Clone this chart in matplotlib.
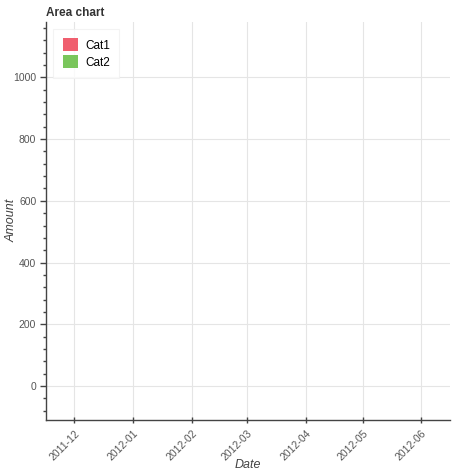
import matplotlib

matplotlib.use("Agg")
import matplotlib.dates as mdates
import matplotlib.pyplot as plt
import numpy as np
from matplotlib.ticker import MultipleLocator

# nothing is drawn inside the reference plot: the series are empty, only the legend shows them
categories = ["Cat1", "Cat2"]
colors = ["#ef4e5f", "#6cc04a"]
dates = np.array([], dtype="datetime64[D]")
cat1 = np.array([], dtype=float)
cat2 = np.array([], dtype=float)
series = [cat1, cat2]

INK = "#444444"
GRID = "#e5e5e5"

plt.rcParams["font.family"] = ["Liberation Sans", "DejaVu Sans"]

fig = plt.figure(figsize=(4.74, 4.74), dpi=100)
ax = fig.add_axes([0.097, 0.114, 0.852, 0.840])

base = np.zeros(len(dates))
for name, col, vals in zip(categories, colors, series):
    ax.fill_between(dates, base, base + vals, color=col, alpha=0.9, label=name, linewidth=0)
    base = base + vals

ax.set_xlim(np.datetime64("2011-11-16"), np.datetime64("2012-06-16"))
ax.set_ylim(-110, 1180)
ax.xaxis.set_major_locator(mdates.MonthLocator())
ax.xaxis.set_major_formatter(mdates.DateFormatter("%Y-%m"))
ax.yaxis.set_major_locator(MultipleLocator(200))
ax.yaxis.set_minor_locator(MultipleLocator(40))

ax.grid(True, color=GRID, linewidth=0.8)
ax.set_axisbelow(True)
for s in ("top", "right"):
    ax.spines[s].set_visible(False)
for s in ("left", "bottom"):
    ax.spines[s].set_color(INK)
    ax.spines[s].set_linewidth(1.0)

ax.tick_params(axis="both", which="major", labelsize=7.5, colors=INK, labelcolor="#555555", width=1)
ax.tick_params(axis="x", which="major", length=5, direction="inout")
ax.tick_params(axis="y", which="major", length=4, direction="out", pad=3)
ax.tick_params(axis="y", which="minor", length=2.5, width=1, color=INK, direction="out")
plt.setp(ax.get_xticklabels(), rotation=45, ha="right", rotation_mode="anchor")

fig.text(0.523, 0.019, "Date", fontsize=9, style="italic", color=INK, ha="center", va="center")
fig.text(0.024, 0.535, "Amount", fontsize=9, style="italic", color=INK, ha="center", va="center", rotation=90)

fig.text(0.097, 0.972, "Area chart", fontsize=8.5, fontweight="bold", color="#333333", ha="left", va="center")

leg = ax.legend(loc="upper left", fontsize=8.5, frameon=True, fancybox=False, borderpad=0.8,
                handlelength=1.3, handleheight=1.3, handletextpad=0.6, labelspacing=0.3,
                borderaxespad=0.6)
leg.get_frame().set_edgecolor("#f0f0f0")
leg.get_frame().set_linewidth(0.8)

fig.savefig("out.png", dpi=100)
